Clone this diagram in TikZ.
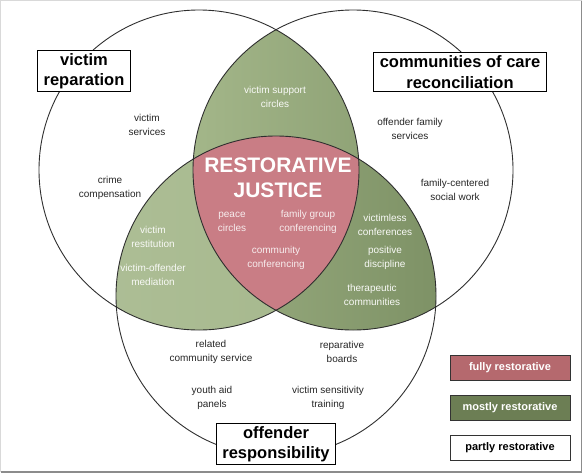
\documentclass[tikz,border=0pt]{standalone}
\usepackage{fontspec}
\setmainfont{Liberation Sans}
\usepackage{tikz}
\usetikzlibrary{positioning, calc}
\definecolor{myGreen}{HTML}{A3B689}
\definecolor{myGreenDark}{HTML}{7E9266}
\definecolor{myPink}{HTML}{C97D85}
\definecolor{myLegPink}{HTML}{B5696E}
\definecolor{myLegGreen}{HTML}{6C7E54}
\definecolor{myLine}{HTML}{2E2E2E}

\begin{document}
\begin{tikzpicture}[x=1pt, y=-1pt,
  ring/.style={draw=myLine, line width=0.9pt},
  title/.style={draw=black, line width=1.1pt, fill=white, align=center,
                font=\fontsize{16.5}{20.5}\selectfont\bfseries,
                inner xsep=6pt, inner ysep=3pt},
  item/.style={align=center, font=\fontsize{10}{13.5}\selectfont, text=black!85},
  initem/.style={item, text=white!92!myGreen},
  key/.style={draw=black!80, line width=1pt, minimum width=120pt,
              minimum height=25pt, font=\fontsize{11}{12}\selectfont\bfseries}
]
\useasboundingbox (0,0) rectangle (583,474);
\draw[black!15] (0.5,0.5) rectangle (581.5,471.5);
\draw[black!45, line width=1.2pt] (581.5,0.5) -- (581.5,472) -- (0.5,472);

\coordinate (cv) at (199,170);
\coordinate (cc) at (353,170);
\coordinate (co) at (276,296);

% pairwise overlaps
\begin{scope}
  \clip (cv) circle (160);
  \shade[left color=myGreen, right color=myGreenDark] (cc) circle (160);
\end{scope}
\begin{scope}
  \clip (cv) circle (160);
  \shade[left color=myGreen!90!white, right color=myGreen] (co) circle (160);
\end{scope}
\begin{scope}
  \clip (cc) circle (160);
  \shade[left color=myGreen, right color=myGreenDark] (co) circle (160);
\end{scope}
% all three
\begin{scope}
  \clip (cv) circle (160);
  \clip (cc) circle (160);
  \fill[myPink] (co) circle (160);
\end{scope}

\draw[ring] (cv) circle (160);
\draw[ring] (cc) circle (160);
\draw[ring] (co) circle (160);

\node[title] (vrep) at (84,71) {victim\\reparation};
\node[title] (comm) at (460,72) {communities of care\\reconciliation};
\node[title] (offr) at (276,444) {offender\\responsibility};

\node[align=center, text=white, font=\fontsize{21}{25}\selectfont\bfseries]
  (rj) at (278,178) {RESTORATIVE\\JUSTICE};

\node[item] (vserv) at (147,125) {victim\\services};
\node[item] (crime) at (110,188) {crime\\compensation};
\node[item] (offam) at (410,129) {offender family\\services};
\node[item] (famcen) at (455,190) {family-centered\\social work};
\node[item] (relcom) at (211,352) {related\\community service};
\node[item] (repb) at (342,352) {reparative\\boards};
\node[item] (youth) at (212,398) {youth aid\\panels};
\node[item] (vsens) at (328,398) {victim sensitivity\\training};

\node[initem] (vsup) at (275,97) {victim support\\circles};
\node[initem] (vrest) at (153,237) {victim\\restitution};
\node[initem] (vmed) at (153,275) {victim-offender\\mediation};
\node[initem] (vless) at (385,225) {victimless\\conferences};
\node[initem] (posd) at (385,258) {positive\\discipline};
\node[initem] (ther) at (372,295) {therapeutic\\communities};
\node[initem, text=white!85!myPink] (peace) at (232,222) {peace\\circles};
\node[initem, text=white!85!myPink] (fgc) at (308,222) {family group\\conferencing};
\node[initem, text=white!85!myPink] (ccon) at (276,258) {community\\conferencing};

\node[key, fill=myLegPink, text=white] (kfull) at (510,368) {fully restorative};
\node[key, fill=myLegGreen, text=white] (kmost) at (510,408) {mostly restorative};
\node[key, fill=white, text=black] (kpart) at (510,448) {partly restorative};
\end{tikzpicture}
\end{document}
